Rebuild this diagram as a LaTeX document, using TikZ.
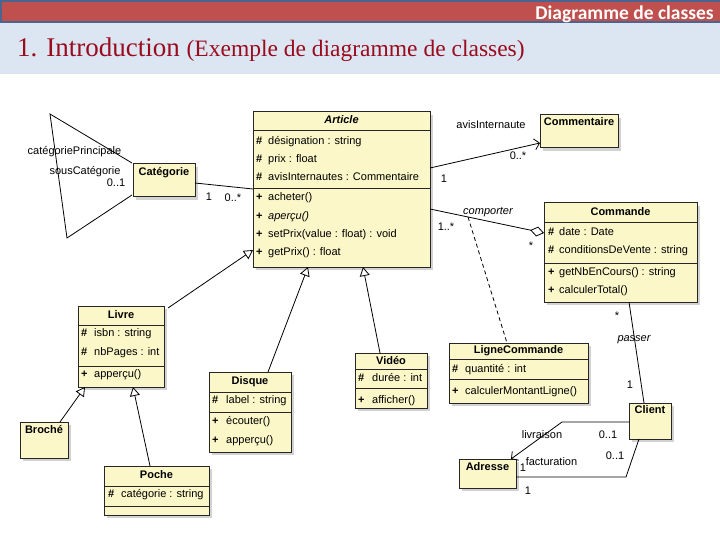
\documentclass[tikz,border=0pt]{standalone}
\usepackage{fontspec}
\setmainfont{Liberation Sans}
\newfontfamily\hdserif{Liberation Serif}
\newfontfamily\hdsans{Carlito}
\usetikzlibrary{arrows.meta,shadows,calc}
\definecolor{bandred}{HTML}{C0504D}
\definecolor{bandline}{HTML}{4A6690}
\definecolor{bandblue}{HTML}{DCE6F2}
\definecolor{titlered}{HTML}{9A0B1E}
\definecolor{clsfill}{HTML}{FBF7C8}
\tikzset{
 cls/.style={draw=black!85, line width=1pt, fill=clsfill, inner sep=0pt, outer sep=0pt,
   drop shadow={shadow xshift=3pt, shadow yshift=-3pt, fill=black!35}},
 txt/.style={inner sep=0pt, font=\fontsize{11}{13}\selectfont, text height=8pt, text depth=2.5pt},
 row/.style={txt, anchor=west},
 sign/.style={txt, anchor=west, font=\fontsize{11}{13}\selectfont\bfseries},
 ttl/.style={txt, font=\fontsize{11}{13}\selectfont\bfseries},
 lbl/.style={txt},
 conn/.style={draw=black, line width=0.8pt},
 gen/.style={conn, -{Triangle[fill=white, length=9pt, width=10pt]}},
 nav/.style={conn, -{Straight Barb[length=5pt, width=11pt]}},
 agg/.style={conn, -{Diamond[fill=white, length=14pt, width=10pt]}},
 assocline/.style={conn, dash pattern=on 4pt off 3pt},
 comp/.style={draw=black!85, line width=1pt},
}
\newcommand\umlrow[6]{\node[sign] (#1s) at (#2,#4) {#5}; \node[row] (#1) at (#3,#4) {#6};}
\begin{document}
\begin{tikzpicture}[x=1pt,y=-1pt]
\useasboundingbox (0,0) rectangle (720,540);
% header bands
\fill[bandblue] (0,23) rectangle (720,74);
\fill[bandred] (0,1) rectangle (720,22);
\draw[bandline, line width=2pt] (0,1) -- (720,1);
\draw[bandline, line width=2pt] (0,22.5) -- (720,22.5);
\draw[bandline, line width=1.5pt] (0.75,1) -- (0.75,22.5);
\node[anchor=base east, inner sep=0pt, text=white, font=\hdsans\bfseries\fontsize{19.5}{22}\selectfont] (hdr) at (714,19.5) {Diagramme de classes};
\node[anchor=base west, inner sep=0pt, text=titlered, font=\hdserif] (title) at (17,57)
  {\fontsize{27}{30}\selectfont 1. Introduction \fontsize{23.5}{26}\selectfont(Exemple de diagramme de classes)};

% ---------- classes ----------
% Article
\node[cls, minimum width=177pt, minimum height=155pt] (article) at (341.5,189.5) {};
\draw[comp] (article.west |- 0,131) -- (article.east |- 0,131);
\draw[comp] (article.west |- 0,189) -- (article.east |- 0,189);
\node[ttl, font=\fontsize{11}{13}\selectfont\bfseries\itshape] (articleT) at (341.5,121) {Article};
\umlrow{a1}{256}{268}{142}{\#}{désignation : string}
\umlrow{a2}{256}{268}{160}{\#}{prix : float}
\umlrow{a3}{256}{268}{178}{\#}{avisInternautes : Commentaire}
\umlrow{a4}{256}{268}{198}{+}{acheter()}
\umlrow{a5}{256}{268}{217}{+}{\textit{aperçu()}}
\umlrow{a6}{256}{268}{235}{+}{setPrix(value : float) : void}
\umlrow{a7}{256}{268}{253}{+}{getPrix() : float}

% Commentaire
\node[cls, minimum width=78pt, minimum height=33pt] (commentaire) at (579,131.5) {};
\node[ttl] (commentaireT) at (579,123) {Commentaire};

% Catégorie
\node[cls, minimum width=62pt, minimum height=33pt] (categorie) at (164,180.5) {};
\node[ttl] (categorieT) at (164,172.5) {Catégorie};

% Commande
\node[cls, minimum width=153pt, minimum height=99pt] (commande) at (620.5,252.5) {};
\draw[comp] (commande.west |- 0,223) -- (commande.east |- 0,223);
\draw[comp] (commande.west |- 0,263) -- (commande.east |- 0,263);
\node[ttl] (commandeT) at (620.5,213) {Commande};
\umlrow{c1}{548}{559}{233}{\#}{date : Date}
\umlrow{c2}{548}{559}{251}{\#}{conditionsDeVente : string}
\umlrow{c3}{548}{559}{273}{+}{getNbEnCours() : string}
\umlrow{c4}{548}{559}{291}{+}{calculerTotal()}

% Livre
\node[cls, minimum width=86pt, minimum height=81pt] (livre) at (121,346.5) {};
\draw[comp] (livre.west |- 0,325) -- (livre.east |- 0,325);
\draw[comp] (livre.west |- 0,366) -- (livre.east |- 0,366);
\node[ttl] (livreT) at (121,315.5) {Livre};
\umlrow{l1}{81}{94}{334}{\#}{isbn : string}
\umlrow{l2}{81}{94}{353}{\#}{nbPages : int}
\umlrow{l3}{81}{94}{375}{+}{apperçu()}

% Broché
\node[cls, minimum width=48pt, minimum height=36pt] (broche) at (44,440) {};
\node[ttl] (brocheT) at (44,430.5) {Broché};

% Poche
\node[cls, minimum width=105pt, minimum height=49pt] (poche) at (156.5,490.5) {};
\draw[comp] (poche.west |- 0,486) -- (poche.east |- 0,486);
\draw[comp] (poche.west |- 0,506) -- (poche.east |- 0,506);
\node[ttl] (pocheT) at (156.5,475.5) {Poche};
\umlrow{p1}{108}{121}{495}{\#}{catégorie : string}

% Disque
\node[cls, minimum width=82pt, minimum height=80pt] (disque) at (250,412) {};
\draw[comp] (disque.west |- 0,392) -- (disque.east |- 0,392);
\draw[comp] (disque.west |- 0,412) -- (disque.east |- 0,412);
\node[ttl] (disqueT) at (250,381.5) {Disque};
\umlrow{d1}{212}{226}{401}{\#}{label : string}
\umlrow{d2}{212}{226}{422}{+}{écouter()}
\umlrow{d3}{212}{226}{441}{+}{apperçu()}

% Vidéo
\node[cls, minimum width=72pt, minimum height=55pt] (video) at (391,380.5) {};
\draw[comp] (video.west |- 0,369) -- (video.east |- 0,369);
\draw[comp] (video.west |- 0,388) -- (video.east |- 0,388);
\node[ttl] (videoT) at (391,361.5) {Vidéo};
\umlrow{v1}{358}{372}{379}{\#}{durée : int}
\umlrow{v2}{358}{372}{401}{+}{afficher()}

% LigneCommande
\node[cls, minimum width=139pt, minimum height=60pt] (lignecommande) at (518.5,373) {};
\draw[comp] (lignecommande.west |- 0,359) -- (lignecommande.east |- 0,359);
\draw[comp] (lignecommande.west |- 0,379) -- (lignecommande.east |- 0,379);
\node[ttl] (lignecommandeT) at (518.5,351) {LigneCommande};
\umlrow{lc1}{452}{465}{370}{\#}{quantité : int}
\umlrow{lc2}{452}{465}{392}{+}{calculerMontantLigne()}

% Client
\node[cls, minimum width=42pt, minimum height=36pt] (client) at (650,421) {};
\node[ttl] (clientT) at (650,411) {Client};

% Adresse
\node[cls, minimum width=57pt, minimum height=29pt] (adresse) at (487.5,473.5) {};
\node[ttl] (adresseT) at (487.5,467.5) {Adresse};

% ---------- connectors ----------
\coordinate (cp1) at (50,114);
\coordinate (cp2) at (67,238);
\draw[conn] ($(categorie.north west)+(-1,-1)$) -- (cp1) -- (cp2) -- ($(categorie.south west)+(-1,-2)$);
\draw[conn] (categorie.east |- 0,183) -- (article.west |- 0,189);
\draw[nav] (article.east |- 0,168) -- (commentaire.west |- 0,143);
\draw[agg] (article.east |- 0,209) -- (commande.west |- 0,233);
\coordinate (cm) at (468,217);
\draw[assocline] (cm) -- (lignecommande.north -| 507,0);
\draw[conn] (commande.south -| 629,0) -- (client.north -| 644,0);
\coordinate (lv) at (562,422);
\draw[nav] (client.west |- 0,422) -- (lv) -- (adresse.north -| 511,0);
\coordinate (fc) at (626,477);
\draw[conn] (client.south -| 639,0) -- (fc) -- (adresse.east |- 0,477);

\draw[gen] ($(livre.north east)+(4,2)$) -- (article.west |- 0,250);
\draw[gen] (disque.north -| 268,0) -- (article.south -| 308,0);
\draw[gen] (video.north -| 380,0) -- (article.south -| 363,0);
\draw[gen] (broche.north -| 60,0) -- (livre.south -| 85,0);
\draw[gen] (poche.north -| 150,0) -- (livre.south -| 133,0);

% ---------- labels ----------
\node[lbl] (lcp) at (74.5,152) {catégoriePrincipale};
\node[lbl] (lsc) at (85,172) {sousCatégorie};
\node[lbl] (lsm) at (116,184) {0..1};
\node[lbl] (lca1) at (209,198) {1};
\node[lbl] (lca2) at (233,199) {0..*};
\node[lbl] (lai) at (491,126) {avisInternaute};
\node[lbl] (lai1) at (518,157) {0..*};
\node[lbl] (lai2) at (444,180) {1};
\node[lbl, font=\fontsize{11}{13}\selectfont\itshape] (lcomp) at (488,212) {comporter};
\node[lbl] (lcomp1) at (446,228) {1..*};
\node[lbl] (lcomp2) at (531,247) {*};
\node[lbl] (lpa1) at (617,317) {*};
\node[lbl, font=\fontsize{11}{13}\selectfont\itshape] (lpa) at (634,339) {passer};
\node[lbl] (lpa2) at (630,386) {1};
\node[lbl] (lliv) at (542,436) {livraison};
\node[lbl] (lliv1) at (608,436) {0..1};
\node[lbl] (lliv2) at (523,469) {1};
\node[lbl] (lfac) at (551.5,463) {facturation};
\node[lbl] (lfac1) at (615,457) {0..1};
\node[lbl] (lfac2) at (528,492) {1};
\end{tikzpicture}
\end{document}
